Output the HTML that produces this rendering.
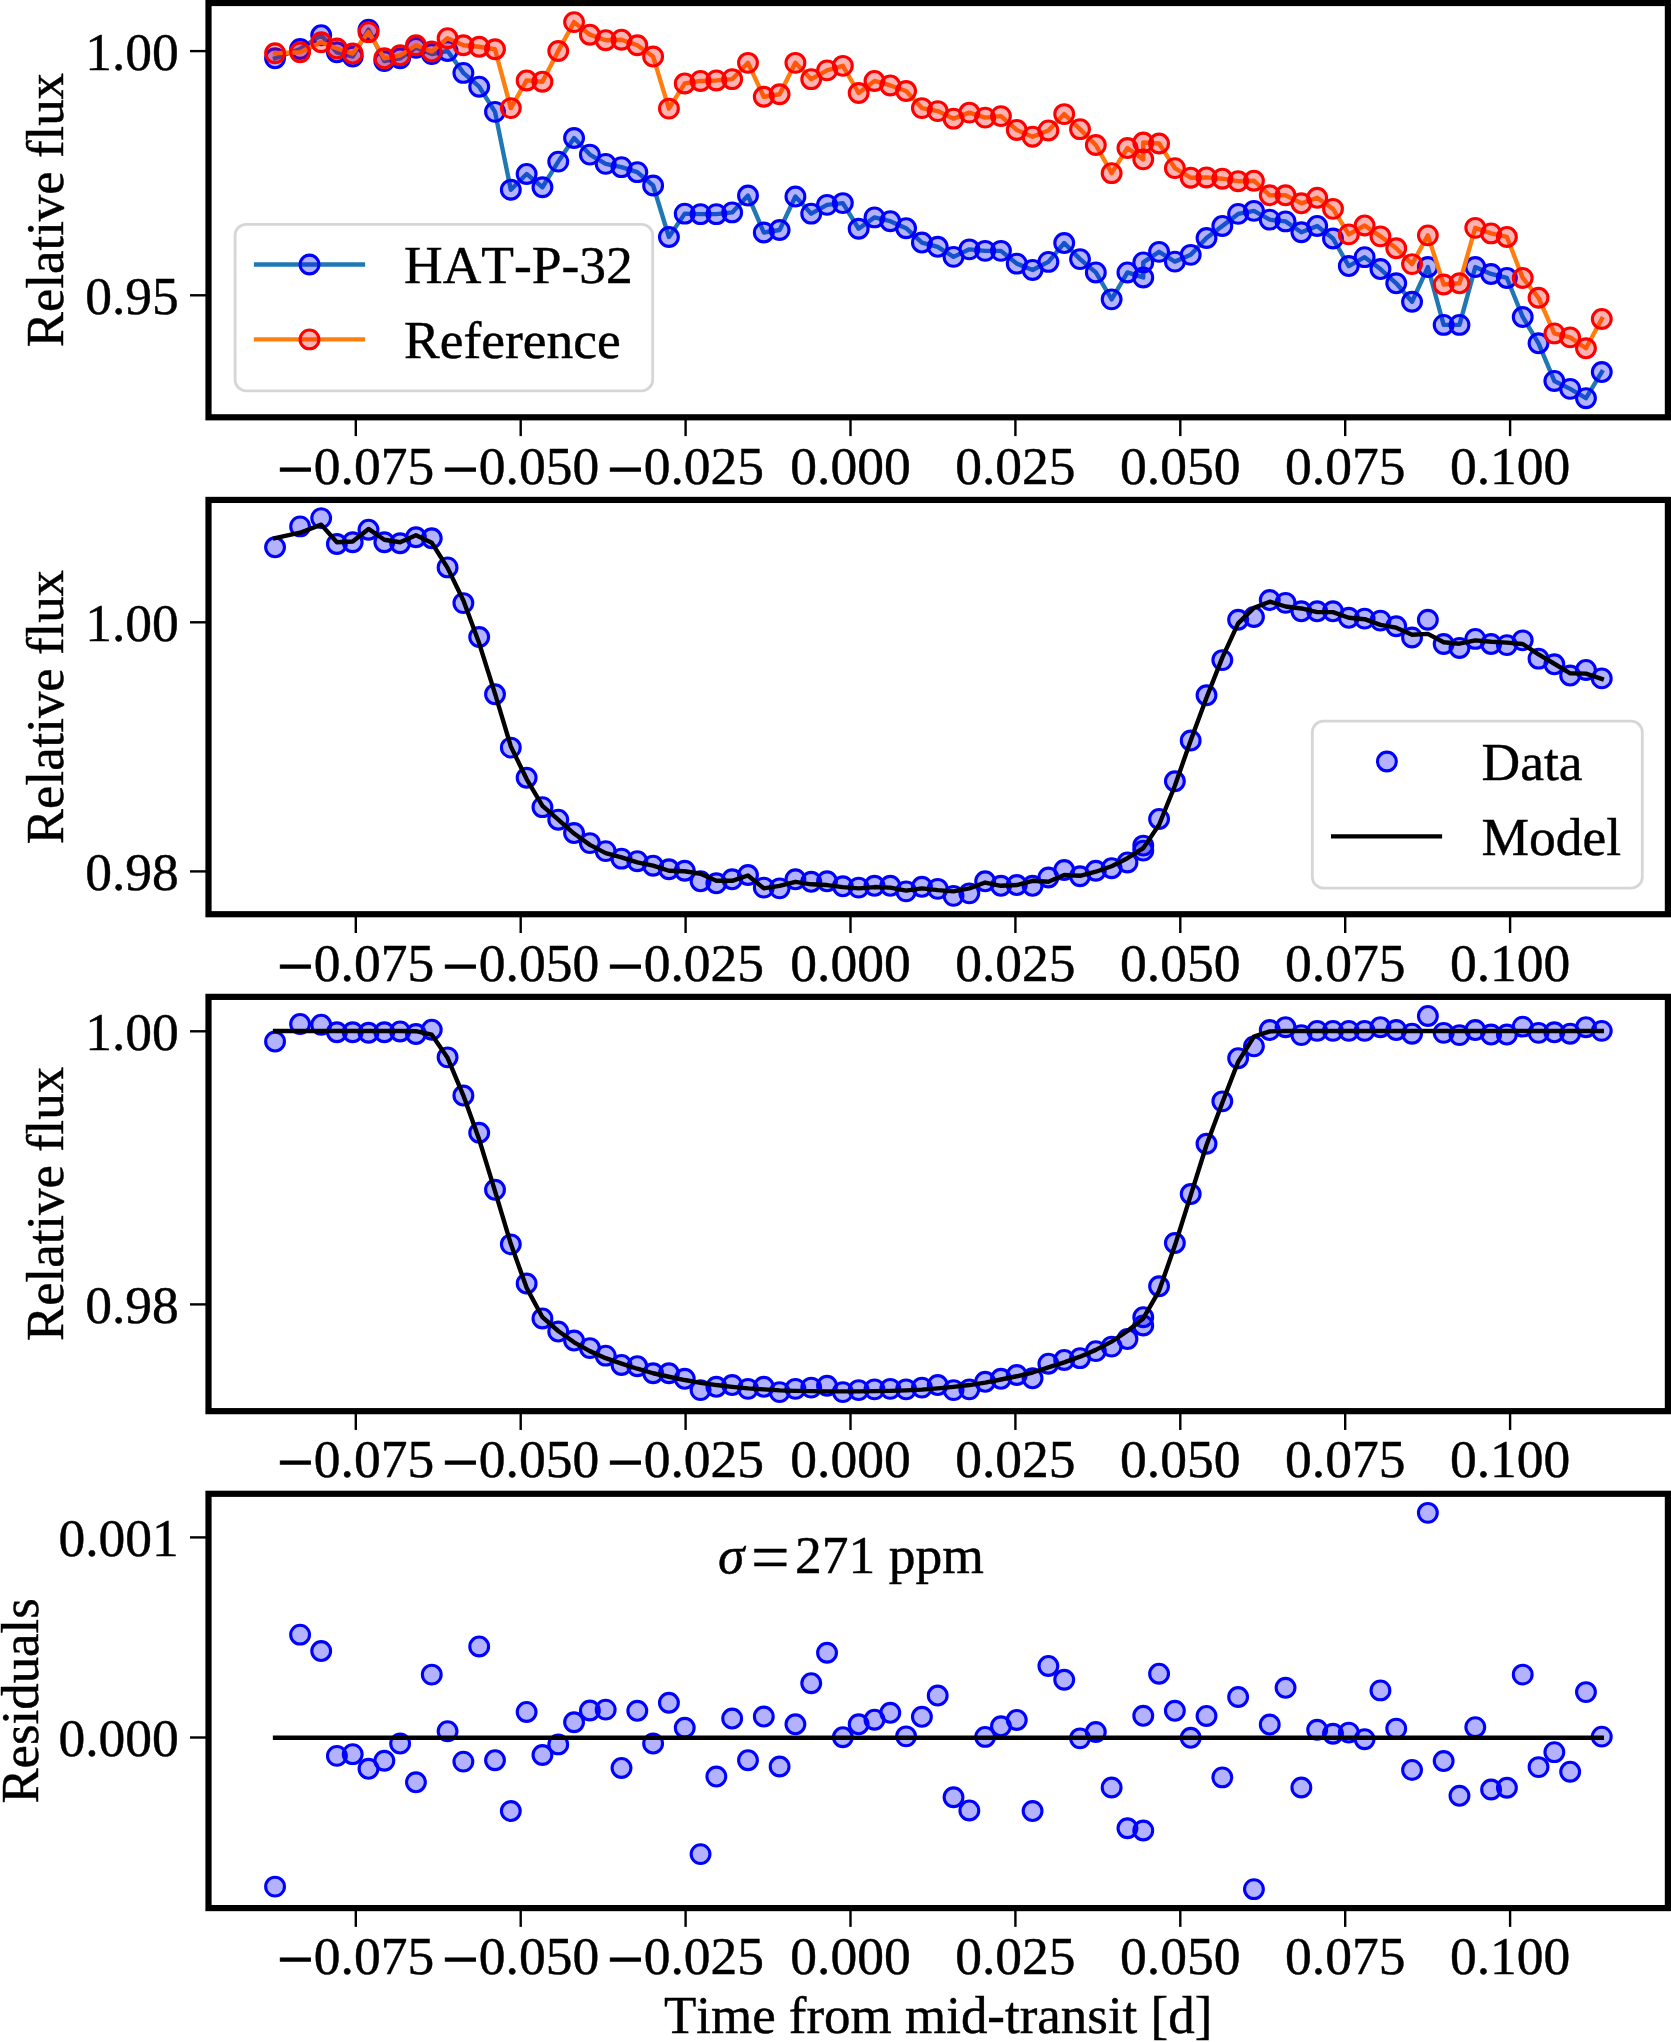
<!DOCTYPE html>
<html lang="en"><head><meta charset="utf-8"><title>HAT-P-32 transit light curve</title>
<style>html,body{margin:0;padding:0;background:#fff;overflow:hidden}svg{display:block}text{font-family:"Liberation Serif","Times New Roman",Times,serif;fill:#000;font-kerning:none;stroke:#000;stroke-width:0.45px}.t{font-size:53.5px}.l{font-size:52.8px}.bm{fill:rgba(0,0,255,0.3);stroke:#0000ff;stroke-width:3.1}.rm{fill:rgba(255,0,0,0.3);stroke:#ff0000;stroke-width:3.1}.ln{fill:none;stroke-width:4.4;stroke-linejoin:round;stroke-linecap:square}.tk{stroke:#000;stroke-width:2.4}.sp{fill:none;stroke:#000;stroke-width:6.2;stroke-linejoin:miter}.lg{fill:rgba(255,255,255,0.8);stroke:rgba(204,204,204,0.8);stroke-width:2.8}</style></head><body>
<svg width="1671" height="2042" viewBox="0 0 1671 2042">
<rect width="1671" height="2042" fill="#fff"/>
<g id="panel1">
<polyline class="ln" stroke="#1f77b4" points="275.05,58.31 300.1,49.01 321.2,35.19 336.9,52.28 352.71,56.55 368.52,29.66 384.33,61.08 400.14,58.31 415.95,47.76 431.77,54.04 447.58,51.02 463.39,72.89 479.2,86.71 495.01,111.85 510.82,189.77 526.63,173.93 542.44,187.25 558.25,161.62 574.06,137.99 589.88,154.58 605.69,163.88 621.5,167.15 637.31,172.17 653.12,185.49 668.93,237.02 684.74,213.64 700.55,214.15 716.36,214.15 732.17,212.39 747.99,195.55 763.8,232.5 779.61,229.98 795.42,196.55 811.23,213.64 827.04,204.85 842.85,203.09 858.66,228.73 874.47,217.41 890.28,221.18 906.1,228.22 921.91,242.55 937.72,246.82 953.53,256.88 969.34,249.34 985.15,250.84 1000.96,250.84 1016.77,263.64 1032.58,269.93 1048.39,261.89 1064.21,243.03 1080.02,259.12 1095.83,272.44 1111.64,299.34 1127.45,272.44 1143.26,277.47 1143.26,262.39 1159.07,251.83 1174.88,261.63 1190.69,254.85 1206.51,238.01 1222.32,225.94 1238.13,213.88 1253.94,210.86 1269.75,219.66 1285.56,221.42 1301.37,232.23 1317.18,225.94 1332.99,238.51 1348.8,266.07 1364.61,257.16 1380.43,269.04 1396.24,283.3 1412.05,301.73 1427.86,267.06 1443.67,324.9 1459.48,324.9 1475.29,267.06 1491.1,273.99 1506.91,277.96 1522.72,316.98 1538.54,343.32 1554.35,380.96 1570.16,388.88 1585.97,398.19 1601.78,372.05"/>
<g class="bm">
<circle cx="275.05" cy="58.31" r="9.4"/><circle cx="300.1" cy="49.01" r="9.4"/><circle cx="321.2" cy="35.19" r="9.4"/><circle cx="336.9" cy="52.28" r="9.4"/><circle cx="352.71" cy="56.55" r="9.4"/><circle cx="368.52" cy="29.66" r="9.4"/><circle cx="384.33" cy="61.08" r="9.4"/><circle cx="400.14" cy="58.31" r="9.4"/><circle cx="415.95" cy="47.76" r="9.4"/><circle cx="431.77" cy="54.04" r="9.4"/><circle cx="447.58" cy="51.02" r="9.4"/><circle cx="463.39" cy="72.89" r="9.4"/><circle cx="479.2" cy="86.71" r="9.4"/><circle cx="495.01" cy="111.85" r="9.4"/><circle cx="510.82" cy="189.77" r="9.4"/><circle cx="526.63" cy="173.93" r="9.4"/><circle cx="542.44" cy="187.25" r="9.4"/><circle cx="558.25" cy="161.62" r="9.4"/><circle cx="574.06" cy="137.99" r="9.4"/><circle cx="589.88" cy="154.58" r="9.4"/><circle cx="605.69" cy="163.88" r="9.4"/><circle cx="621.5" cy="167.15" r="9.4"/><circle cx="637.31" cy="172.17" r="9.4"/><circle cx="653.12" cy="185.49" r="9.4"/><circle cx="668.93" cy="237.02" r="9.4"/><circle cx="684.74" cy="213.64" r="9.4"/><circle cx="700.55" cy="214.15" r="9.4"/><circle cx="716.36" cy="214.15" r="9.4"/><circle cx="732.17" cy="212.39" r="9.4"/><circle cx="747.99" cy="195.55" r="9.4"/><circle cx="763.8" cy="232.5" r="9.4"/><circle cx="779.61" cy="229.98" r="9.4"/><circle cx="795.42" cy="196.55" r="9.4"/><circle cx="811.23" cy="213.64" r="9.4"/><circle cx="827.04" cy="204.85" r="9.4"/><circle cx="842.85" cy="203.09" r="9.4"/><circle cx="858.66" cy="228.73" r="9.4"/><circle cx="874.47" cy="217.41" r="9.4"/><circle cx="890.28" cy="221.18" r="9.4"/><circle cx="906.1" cy="228.22" r="9.4"/><circle cx="921.91" cy="242.55" r="9.4"/><circle cx="937.72" cy="246.82" r="9.4"/><circle cx="953.53" cy="256.88" r="9.4"/><circle cx="969.34" cy="249.34" r="9.4"/><circle cx="985.15" cy="250.84" r="9.4"/><circle cx="1000.96" cy="250.84" r="9.4"/><circle cx="1016.77" cy="263.64" r="9.4"/><circle cx="1032.58" cy="269.93" r="9.4"/><circle cx="1048.39" cy="261.89" r="9.4"/><circle cx="1064.21" cy="243.03" r="9.4"/><circle cx="1080.02" cy="259.12" r="9.4"/><circle cx="1095.83" cy="272.44" r="9.4"/><circle cx="1111.64" cy="299.34" r="9.4"/><circle cx="1127.45" cy="272.44" r="9.4"/><circle cx="1143.26" cy="277.47" r="9.4"/><circle cx="1143.26" cy="262.39" r="9.4"/><circle cx="1159.07" cy="251.83" r="9.4"/><circle cx="1174.88" cy="261.63" r="9.4"/><circle cx="1190.69" cy="254.85" r="9.4"/><circle cx="1206.51" cy="238.01" r="9.4"/><circle cx="1222.32" cy="225.94" r="9.4"/><circle cx="1238.13" cy="213.88" r="9.4"/><circle cx="1253.94" cy="210.86" r="9.4"/><circle cx="1269.75" cy="219.66" r="9.4"/><circle cx="1285.56" cy="221.42" r="9.4"/><circle cx="1301.37" cy="232.23" r="9.4"/><circle cx="1317.18" cy="225.94" r="9.4"/><circle cx="1332.99" cy="238.51" r="9.4"/><circle cx="1348.8" cy="266.07" r="9.4"/><circle cx="1364.61" cy="257.16" r="9.4"/><circle cx="1380.43" cy="269.04" r="9.4"/><circle cx="1396.24" cy="283.3" r="9.4"/><circle cx="1412.05" cy="301.73" r="9.4"/><circle cx="1427.86" cy="267.06" r="9.4"/><circle cx="1443.67" cy="324.9" r="9.4"/><circle cx="1459.48" cy="324.9" r="9.4"/><circle cx="1475.29" cy="267.06" r="9.4"/><circle cx="1491.1" cy="273.99" r="9.4"/><circle cx="1506.91" cy="277.96" r="9.4"/><circle cx="1522.72" cy="316.98" r="9.4"/><circle cx="1538.54" cy="343.32" r="9.4"/><circle cx="1554.35" cy="380.96" r="9.4"/><circle cx="1570.16" cy="388.88" r="9.4"/><circle cx="1585.97" cy="398.19" r="9.4"/><circle cx="1601.78" cy="372.05" r="9.4"/>
</g>
<polyline class="ln" stroke="#ff7f0e" points="275.05,53.29 300.1,52.28 321.2,42.23 336.9,48.51 352.71,53.54 368.52,32.17 384.33,58.31 400.14,55.3 415.95,45.24 431.77,51.53 447.58,38.2 463.39,45.24 479.2,46.75 495.01,49.26 510.82,108.08 526.63,80.43 542.44,81.69 558.25,51.02 574.06,22.12 589.88,34.69 605.69,40.22 621.5,39.71 637.31,45.24 653.12,56.55 668.93,108.58 684.74,83.45 700.55,80.93 716.36,80.43 732.17,79.17 747.99,62.84 763.8,96.77 779.61,94.25 795.42,62.84 811.23,79.17 827.04,70.38 842.85,65.85 858.66,93 874.47,80.93 890.28,85.46 906.1,90.99 921.91,108.08 937.72,111.1 953.53,118.64 969.34,112.6 985.15,117.63 1000.96,116.12 1016.77,129.93 1032.58,136.71 1048.39,130.43 1064.21,114.09 1080.02,129.17 1095.83,145.01 1111.64,173.16 1127.45,148.03 1143.26,159.34 1143.26,142.5 1159.07,143.5 1174.88,168.13 1190.69,177.68 1206.51,177.43 1222.32,178.69 1238.13,181.2 1253.94,180.7 1269.75,195.28 1285.56,195.28 1301.37,203.32 1317.18,197.79 1332.99,208.85 1348.8,234.38 1364.61,225.46 1380.43,236.36 1396.24,248.24 1412.05,264.09 1427.86,235.37 1443.67,284.49 1459.48,283.3 1475.29,227.84 1491.1,233.39 1506.91,236.95 1522.72,277.96 1538.54,297.76 1554.35,333.42 1570.16,337.38 1585.97,348.28 1601.78,318.96"/>
<g class="rm">
<circle cx="275.05" cy="53.29" r="9.4"/><circle cx="300.1" cy="52.28" r="9.4"/><circle cx="321.2" cy="42.23" r="9.4"/><circle cx="336.9" cy="48.51" r="9.4"/><circle cx="352.71" cy="53.54" r="9.4"/><circle cx="368.52" cy="32.17" r="9.4"/><circle cx="384.33" cy="58.31" r="9.4"/><circle cx="400.14" cy="55.3" r="9.4"/><circle cx="415.95" cy="45.24" r="9.4"/><circle cx="431.77" cy="51.53" r="9.4"/><circle cx="447.58" cy="38.2" r="9.4"/><circle cx="463.39" cy="45.24" r="9.4"/><circle cx="479.2" cy="46.75" r="9.4"/><circle cx="495.01" cy="49.26" r="9.4"/><circle cx="510.82" cy="108.08" r="9.4"/><circle cx="526.63" cy="80.43" r="9.4"/><circle cx="542.44" cy="81.69" r="9.4"/><circle cx="558.25" cy="51.02" r="9.4"/><circle cx="574.06" cy="22.12" r="9.4"/><circle cx="589.88" cy="34.69" r="9.4"/><circle cx="605.69" cy="40.22" r="9.4"/><circle cx="621.5" cy="39.71" r="9.4"/><circle cx="637.31" cy="45.24" r="9.4"/><circle cx="653.12" cy="56.55" r="9.4"/><circle cx="668.93" cy="108.58" r="9.4"/><circle cx="684.74" cy="83.45" r="9.4"/><circle cx="700.55" cy="80.93" r="9.4"/><circle cx="716.36" cy="80.43" r="9.4"/><circle cx="732.17" cy="79.17" r="9.4"/><circle cx="747.99" cy="62.84" r="9.4"/><circle cx="763.8" cy="96.77" r="9.4"/><circle cx="779.61" cy="94.25" r="9.4"/><circle cx="795.42" cy="62.84" r="9.4"/><circle cx="811.23" cy="79.17" r="9.4"/><circle cx="827.04" cy="70.38" r="9.4"/><circle cx="842.85" cy="65.85" r="9.4"/><circle cx="858.66" cy="93" r="9.4"/><circle cx="874.47" cy="80.93" r="9.4"/><circle cx="890.28" cy="85.46" r="9.4"/><circle cx="906.1" cy="90.99" r="9.4"/><circle cx="921.91" cy="108.08" r="9.4"/><circle cx="937.72" cy="111.1" r="9.4"/><circle cx="953.53" cy="118.64" r="9.4"/><circle cx="969.34" cy="112.6" r="9.4"/><circle cx="985.15" cy="117.63" r="9.4"/><circle cx="1000.96" cy="116.12" r="9.4"/><circle cx="1016.77" cy="129.93" r="9.4"/><circle cx="1032.58" cy="136.71" r="9.4"/><circle cx="1048.39" cy="130.43" r="9.4"/><circle cx="1064.21" cy="114.09" r="9.4"/><circle cx="1080.02" cy="129.17" r="9.4"/><circle cx="1095.83" cy="145.01" r="9.4"/><circle cx="1111.64" cy="173.16" r="9.4"/><circle cx="1127.45" cy="148.03" r="9.4"/><circle cx="1143.26" cy="159.34" r="9.4"/><circle cx="1143.26" cy="142.5" r="9.4"/><circle cx="1159.07" cy="143.5" r="9.4"/><circle cx="1174.88" cy="168.13" r="9.4"/><circle cx="1190.69" cy="177.68" r="9.4"/><circle cx="1206.51" cy="177.43" r="9.4"/><circle cx="1222.32" cy="178.69" r="9.4"/><circle cx="1238.13" cy="181.2" r="9.4"/><circle cx="1253.94" cy="180.7" r="9.4"/><circle cx="1269.75" cy="195.28" r="9.4"/><circle cx="1285.56" cy="195.28" r="9.4"/><circle cx="1301.37" cy="203.32" r="9.4"/><circle cx="1317.18" cy="197.79" r="9.4"/><circle cx="1332.99" cy="208.85" r="9.4"/><circle cx="1348.8" cy="234.38" r="9.4"/><circle cx="1364.61" cy="225.46" r="9.4"/><circle cx="1380.43" cy="236.36" r="9.4"/><circle cx="1396.24" cy="248.24" r="9.4"/><circle cx="1412.05" cy="264.09" r="9.4"/><circle cx="1427.86" cy="235.37" r="9.4"/><circle cx="1443.67" cy="284.49" r="9.4"/><circle cx="1459.48" cy="283.3" r="9.4"/><circle cx="1475.29" cy="227.84" r="9.4"/><circle cx="1491.1" cy="233.39" r="9.4"/><circle cx="1506.91" cy="236.95" r="9.4"/><circle cx="1522.72" cy="277.96" r="9.4"/><circle cx="1538.54" cy="297.76" r="9.4"/><circle cx="1554.35" cy="333.42" r="9.4"/><circle cx="1570.16" cy="337.38" r="9.4"/><circle cx="1585.97" cy="348.28" r="9.4"/><circle cx="1601.78" cy="318.96" r="9.4"/>
</g>
<rect class="lg" x="235.1" y="224.3" width="417.6" height="166.5" rx="11.1"/>
<line x1="253.9" x2="365.1" y1="264.5" y2="264.5" stroke="#1f77b4" stroke-width="4.4"/>
<circle class="bm" cx="309.5" cy="264.5" r="9.4"/>
<line x1="253.9" x2="365.1" y1="339.4" y2="339.4" stroke="#ff7f0e" stroke-width="4.4"/>
<circle class="rm" cx="309.5" cy="339.4" r="9.4"/>
<text class="t" x="404" y="283.3">HAT-P-32</text>
<text class="t" x="404" y="358.1">Reference</text>
<line class="tk" x1="190" x2="208.5" y1="51.1" y2="51.1"/>
<text class="t" text-anchor="end" x="178.8" y="69.7">1.00</text>
<line class="tk" x1="190" x2="208.5" y1="295.3" y2="295.3"/>
<text class="t" text-anchor="end" x="178.8" y="313.9">0.95</text>
<line class="tk" x1="355.8" x2="355.8" y1="417.3" y2="436.1"/>
<text class="t" text-anchor="middle" x="355.8" y="483.6"><tspan font-size="64.7" dy="7" stroke-width="1">−</tspan><tspan dy="-7">0.075</tspan></text>
<line class="tk" x1="520.7" x2="520.7" y1="417.3" y2="436.1"/>
<text class="t" text-anchor="middle" x="520.7" y="483.6"><tspan font-size="64.7" dy="7" stroke-width="1">−</tspan><tspan dy="-7">0.050</tspan></text>
<line class="tk" x1="685.6" x2="685.6" y1="417.3" y2="436.1"/>
<text class="t" text-anchor="middle" x="685.6" y="483.6"><tspan font-size="64.7" dy="7" stroke-width="1">−</tspan><tspan dy="-7">0.025</tspan></text>
<line class="tk" x1="850.5" x2="850.5" y1="417.3" y2="436.1"/>
<text class="t" text-anchor="middle" x="850.5" y="483.6">0.000</text>
<line class="tk" x1="1015.4" x2="1015.4" y1="417.3" y2="436.1"/>
<text class="t" text-anchor="middle" x="1015.4" y="483.6">0.025</text>
<line class="tk" x1="1180.3" x2="1180.3" y1="417.3" y2="436.1"/>
<text class="t" text-anchor="middle" x="1180.3" y="483.6">0.050</text>
<line class="tk" x1="1345.2" x2="1345.2" y1="417.3" y2="436.1"/>
<text class="t" text-anchor="middle" x="1345.2" y="483.6">0.075</text>
<line class="tk" x1="1510.1" x2="1510.1" y1="417.3" y2="436.1"/>
<text class="t" text-anchor="middle" x="1510.1" y="483.6">0.100</text>
<rect class="sp" x="208.5" y="3" width="1459.4" height="414.3"/>
<text class="l" text-anchor="middle" transform="translate(63,210.15) rotate(-90)">Relative flux</text>
</g>
<g id="panel2">
<g class="bm">
<circle cx="275.05" cy="547.28" r="9.4"/><circle cx="300.1" cy="526.42" r="9.4"/><circle cx="321.2" cy="518.12" r="9.4"/><circle cx="336.9" cy="544.01" r="9.4"/><circle cx="352.71" cy="542.25" r="9.4"/><circle cx="368.52" cy="529.69" r="9.4"/><circle cx="384.33" cy="542.25" r="9.4"/><circle cx="400.14" cy="543.26" r="9.4"/><circle cx="415.95" cy="537.23" r="9.4"/><circle cx="431.77" cy="538.23" r="9.4"/><circle cx="447.58" cy="567.39" r="9.4"/><circle cx="463.39" cy="603.08" r="9.4"/><circle cx="479.2" cy="637.01" r="9.4"/><circle cx="495.01" cy="694.32" r="9.4"/><circle cx="510.82" cy="747.6" r="9.4"/><circle cx="526.63" cy="777.76" r="9.4"/><circle cx="542.44" cy="807.15" r="9.4"/><circle cx="558.25" cy="819.71" r="9.4"/><circle cx="574.06" cy="833.03" r="9.4"/><circle cx="589.88" cy="843.09" r="9.4"/><circle cx="605.69" cy="851.13" r="9.4"/><circle cx="621.5" cy="858.67" r="9.4"/><circle cx="637.31" cy="861.18" r="9.4"/><circle cx="653.12" cy="865.71" r="9.4"/><circle cx="668.93" cy="869.23" r="9.4"/><circle cx="684.74" cy="870.74" r="9.4"/><circle cx="700.55" cy="881.29" r="9.4"/><circle cx="716.36" cy="883.3" r="9.4"/><circle cx="732.17" cy="879.28" r="9.4"/><circle cx="747.99" cy="875.01" r="9.4"/><circle cx="763.8" cy="887.58" r="9.4"/><circle cx="779.61" cy="888.33" r="9.4"/><circle cx="795.42" cy="879.28" r="9.4"/><circle cx="811.23" cy="881.8" r="9.4"/><circle cx="827.04" cy="881.29" r="9.4"/><circle cx="842.85" cy="886.32" r="9.4"/><circle cx="858.66" cy="887.58" r="9.4"/><circle cx="874.47" cy="885.82" r="9.4"/><circle cx="890.28" cy="885.82" r="9.4"/><circle cx="906.1" cy="891.35" r="9.4"/><circle cx="921.91" cy="886.82" r="9.4"/><circle cx="937.72" cy="888.83" r="9.4"/><circle cx="953.53" cy="895.87" r="9.4"/><circle cx="969.34" cy="893.36" r="9.4"/><circle cx="985.15" cy="881.29" r="9.4"/><circle cx="1000.96" cy="885.82" r="9.4"/><circle cx="1016.77" cy="885.06" r="9.4"/><circle cx="1032.58" cy="885.82" r="9.4"/><circle cx="1048.39" cy="877.52" r="9.4"/><circle cx="1064.21" cy="869.98" r="9.4"/><circle cx="1080.02" cy="876.27" r="9.4"/><circle cx="1095.83" cy="870.74" r="9.4"/><circle cx="1111.64" cy="868.22" r="9.4"/><circle cx="1127.45" cy="862.44" r="9.4"/><circle cx="1143.26" cy="850.63" r="9.4"/><circle cx="1143.26" cy="845.6" r="9.4"/><circle cx="1159.07" cy="818.96" r="9.4"/><circle cx="1174.88" cy="781.26" r="9.4"/><circle cx="1190.69" cy="740.54" r="9.4"/><circle cx="1206.51" cy="695.3" r="9.4"/><circle cx="1222.32" cy="660.11" r="9.4"/><circle cx="1238.13" cy="619.76" r="9.4"/><circle cx="1253.94" cy="616.94" r="9.4"/><circle cx="1269.75" cy="600.03" r="9.4"/><circle cx="1285.56" cy="602.84" r="9.4"/><circle cx="1301.37" cy="611.3" r="9.4"/><circle cx="1317.18" cy="611.3" r="9.4"/><circle cx="1332.99" cy="611.3" r="9.4"/><circle cx="1348.8" cy="617.78" r="9.4"/><circle cx="1364.61" cy="618.63" r="9.4"/><circle cx="1380.43" cy="620.6" r="9.4"/><circle cx="1396.24" cy="626.24" r="9.4"/><circle cx="1412.05" cy="637.51" r="9.4"/><circle cx="1427.86" cy="619.76" r="9.4"/><circle cx="1443.67" cy="644" r="9.4"/><circle cx="1459.48" cy="647.94" r="9.4"/><circle cx="1475.29" cy="638.92" r="9.4"/><circle cx="1491.1" cy="644" r="9.4"/><circle cx="1506.91" cy="645.12" r="9.4"/><circle cx="1522.72" cy="640.33" r="9.4"/><circle cx="1538.54" cy="658.65" r="9.4"/><circle cx="1554.35" cy="664.29" r="9.4"/><circle cx="1570.16" cy="675.57" r="9.4"/><circle cx="1585.97" cy="669.93" r="9.4"/><circle cx="1601.78" cy="678.38" r="9.4"/>
</g>
<polyline class="ln" stroke="#000" points="275.05,538.23 300.1,532.7 321.2,524.66 336.9,542.25 352.71,541.5 368.52,528.93 384.33,539.74 400.14,542.25 415.95,535.22 431.77,542.76 447.58,567.89 463.39,600.57 479.2,643.29 495.01,693.56 510.82,746.35 526.63,779.02 542.44,805.89 558.25,819.71 574.06,833.54 589.88,844.85 605.69,853.14 621.5,857.41 637.31,862.44 653.12,865.71 668.93,870.74 684.74,871.24 700.55,873.75 716.36,880.79 732.17,880.79 747.99,875.51 763.8,888.33 779.61,885.82 795.42,881.8 811.23,884.31 827.04,885.06 842.85,887.07 858.66,888.33 874.47,887.07 890.28,887.58 906.1,890.59 921.91,888.33 937.72,890.09 953.53,891.35 969.34,888.33 985.15,882.55 1000.96,885.82 1016.77,885.06 1032.58,880.79 1048.39,881.8 1064.21,875.01 1080.02,875.76 1095.83,871.74 1111.64,866.21 1127.45,858.17 1143.26,848.11 1143.26,848.11 1159.07,824.74 1174.88,785.78 1190.69,740.54 1206.51,697.81 1222.32,657.59 1238.13,623.42 1253.94,607.92 1269.75,601.72 1285.56,606.51 1301.37,608.48 1317.18,612.15 1332.99,612.15 1348.8,617.78 1364.61,619.19 1380.43,624.83 1396.24,627.65 1412.05,634.69 1427.86,633.85 1443.67,642.31 1459.48,643.71 1475.29,640.33 1491.1,641.74 1506.91,642.59 1522.72,644 1538.54,654.43 1554.35,663.73 1570.16,673.31 1585.97,673.59 1601.78,678.95"/>
<rect class="lg" x="1312.3" y="721.2" width="330" height="166.9" rx="11.1"/>
<circle class="bm" cx="1386.9" cy="761.5" r="9.4"/>
<line x1="1331" x2="1442.1" y1="836.4" y2="836.4" stroke="#000" stroke-width="4.4"/>
<text class="t" x="1481.5" y="780.3">Data</text>
<text class="t" x="1481.5" y="855">Model</text>
<line class="tk" x1="190" x2="208.5" y1="622.3" y2="622.3"/>
<text class="t" text-anchor="end" x="178.8" y="640.9">1.00</text>
<line class="tk" x1="190" x2="208.5" y1="871.4" y2="871.4"/>
<text class="t" text-anchor="end" x="178.8" y="890">0.98</text>
<line class="tk" x1="355.8" x2="355.8" y1="914.23" y2="933.03"/>
<text class="t" text-anchor="middle" x="355.8" y="980.53"><tspan font-size="64.7" dy="7" stroke-width="1">−</tspan><tspan dy="-7">0.075</tspan></text>
<line class="tk" x1="520.7" x2="520.7" y1="914.23" y2="933.03"/>
<text class="t" text-anchor="middle" x="520.7" y="980.53"><tspan font-size="64.7" dy="7" stroke-width="1">−</tspan><tspan dy="-7">0.050</tspan></text>
<line class="tk" x1="685.6" x2="685.6" y1="914.23" y2="933.03"/>
<text class="t" text-anchor="middle" x="685.6" y="980.53"><tspan font-size="64.7" dy="7" stroke-width="1">−</tspan><tspan dy="-7">0.025</tspan></text>
<line class="tk" x1="850.5" x2="850.5" y1="914.23" y2="933.03"/>
<text class="t" text-anchor="middle" x="850.5" y="980.53">0.000</text>
<line class="tk" x1="1015.4" x2="1015.4" y1="914.23" y2="933.03"/>
<text class="t" text-anchor="middle" x="1015.4" y="980.53">0.025</text>
<line class="tk" x1="1180.3" x2="1180.3" y1="914.23" y2="933.03"/>
<text class="t" text-anchor="middle" x="1180.3" y="980.53">0.050</text>
<line class="tk" x1="1345.2" x2="1345.2" y1="914.23" y2="933.03"/>
<text class="t" text-anchor="middle" x="1345.2" y="980.53">0.075</text>
<line class="tk" x1="1510.1" x2="1510.1" y1="914.23" y2="933.03"/>
<text class="t" text-anchor="middle" x="1510.1" y="980.53">0.100</text>
<rect class="sp" x="208.5" y="499.93" width="1459.4" height="414.3"/>
<text class="l" text-anchor="middle" transform="translate(63,707.08) rotate(-90)">Relative flux</text>
</g>
<g id="panel3">
<g class="bm">
<circle cx="275.05" cy="1041.53" r="9.4"/><circle cx="300.1" cy="1023.93" r="9.4"/><circle cx="321.2" cy="1024.69" r="9.4"/><circle cx="336.9" cy="1032.23" r="9.4"/><circle cx="352.71" cy="1032.23" r="9.4"/><circle cx="368.52" cy="1032.73" r="9.4"/><circle cx="384.33" cy="1032.23" r="9.4"/><circle cx="400.14" cy="1031.47" r="9.4"/><circle cx="415.95" cy="1033.99" r="9.4"/><circle cx="431.77" cy="1029.71" r="9.4"/><circle cx="447.58" cy="1057.36" r="9.4"/><circle cx="463.39" cy="1095.57" r="9.4"/><circle cx="479.2" cy="1132.76" r="9.4"/><circle cx="495.01" cy="1189.82" r="9.4"/><circle cx="510.82" cy="1244.36" r="9.4"/><circle cx="526.63" cy="1283.57" r="9.4"/><circle cx="542.44" cy="1318.46" r="9.4"/><circle cx="558.25" cy="1331.53" r="9.4"/><circle cx="574.06" cy="1340.57" r="9.4"/><circle cx="589.88" cy="1348.11" r="9.4"/><circle cx="605.69" cy="1355.66" r="9.4"/><circle cx="621.5" cy="1364.96" r="9.4"/><circle cx="637.31" cy="1366.21" r="9.4"/><circle cx="653.12" cy="1373.25" r="9.4"/><circle cx="668.93" cy="1373.25" r="9.4"/><circle cx="684.74" cy="1378.78" r="9.4"/><circle cx="700.55" cy="1390.09" r="9.4"/><circle cx="716.36" cy="1386.82" r="9.4"/><circle cx="732.17" cy="1385.06" r="9.4"/><circle cx="747.99" cy="1388.83" r="9.4"/><circle cx="763.8" cy="1386.82" r="9.4"/><circle cx="779.61" cy="1392.1" r="9.4"/><circle cx="795.42" cy="1388.83" r="9.4"/><circle cx="811.23" cy="1387.58" r="9.4"/><circle cx="827.04" cy="1385.82" r="9.4"/><circle cx="842.85" cy="1392.1" r="9.4"/><circle cx="858.66" cy="1390.09" r="9.4"/><circle cx="874.47" cy="1389.34" r="9.4"/><circle cx="890.28" cy="1388.83" r="9.4"/><circle cx="906.1" cy="1389.34" r="9.4"/><circle cx="921.91" cy="1387.58" r="9.4"/><circle cx="937.72" cy="1385.06" r="9.4"/><circle cx="953.53" cy="1390.09" r="9.4"/><circle cx="969.34" cy="1389.34" r="9.4"/><circle cx="985.15" cy="1381.8" r="9.4"/><circle cx="1000.96" cy="1378.78" r="9.4"/><circle cx="1016.77" cy="1375.01" r="9.4"/><circle cx="1032.58" cy="1378.28" r="9.4"/><circle cx="1048.39" cy="1363.7" r="9.4"/><circle cx="1064.21" cy="1359.93" r="9.4"/><circle cx="1080.02" cy="1358.17" r="9.4"/><circle cx="1095.83" cy="1351.13" r="9.4"/><circle cx="1111.64" cy="1346.61" r="9.4"/><circle cx="1127.45" cy="1339.07" r="9.4"/><circle cx="1143.26" cy="1325.49" r="9.4"/><circle cx="1143.26" cy="1317.2" r="9.4"/><circle cx="1159.07" cy="1286.28" r="9.4"/><circle cx="1174.88" cy="1243.05" r="9.4"/><circle cx="1190.69" cy="1194.04" r="9.4"/><circle cx="1206.51" cy="1143.77" r="9.4"/><circle cx="1222.32" cy="1101.34" r="9.4"/><circle cx="1238.13" cy="1058.21" r="9.4"/><circle cx="1253.94" cy="1046.37" r="9.4"/><circle cx="1269.75" cy="1030.03" r="9.4"/><circle cx="1285.56" cy="1027.21" r="9.4"/><circle cx="1301.37" cy="1035.1" r="9.4"/><circle cx="1317.18" cy="1030.87" r="9.4"/><circle cx="1332.99" cy="1030.87" r="9.4"/><circle cx="1348.8" cy="1030.87" r="9.4"/><circle cx="1364.61" cy="1030.87" r="9.4"/><circle cx="1380.43" cy="1027.21" r="9.4"/><circle cx="1396.24" cy="1030.03" r="9.4"/><circle cx="1412.05" cy="1033.69" r="9.4"/><circle cx="1427.86" cy="1015.93" r="9.4"/><circle cx="1443.67" cy="1032.84" r="9.4"/><circle cx="1459.48" cy="1035.1" r="9.4"/><circle cx="1475.29" cy="1030.03" r="9.4"/><circle cx="1491.1" cy="1034.54" r="9.4"/><circle cx="1506.91" cy="1034.54" r="9.4"/><circle cx="1522.72" cy="1026.64" r="9.4"/><circle cx="1538.54" cy="1032.84" r="9.4"/><circle cx="1554.35" cy="1032.28" r="9.4"/><circle cx="1570.16" cy="1033.69" r="9.4"/><circle cx="1585.97" cy="1027.21" r="9.4"/><circle cx="1601.78" cy="1030.87" r="9.4"/>
</g>
<polyline class="ln" stroke="#000" points="275.05,1031.02 300.1,1031.02 321.2,1031.02 336.9,1031.02 352.71,1031.02 368.52,1031.02 384.33,1031.02 400.14,1031.02 415.95,1031.22 431.77,1034.74 447.58,1057.86 463.39,1095.57 479.2,1139.55 495.01,1191.08 510.82,1243.86 526.63,1287.85 542.44,1317.2 558.25,1331.02 574.06,1342.33 589.88,1351.13 605.69,1358.17 621.5,1363.7 637.31,1368.73 653.12,1373.25 668.93,1376.77 684.74,1380.04 700.55,1382.8 716.36,1385.06 732.17,1386.82 747.99,1388.33 763.8,1389.34 779.61,1390.34 795.42,1390.84 811.23,1391.1 827.04,1391.35 842.85,1391.35 858.66,1391.35 874.47,1391.1 890.28,1390.84 906.1,1390.34 921.91,1389.59 937.72,1388.33 953.53,1386.82 969.34,1385.06 985.15,1382.55 1000.96,1379.53 1016.77,1376.27 1032.58,1372.5 1048.39,1367.47 1064.21,1362.44 1080.02,1356.66 1095.83,1349.87 1111.64,1341.58 1127.45,1331.02 1143.26,1318.46 1143.26,1318.46 1159.07,1290.81 1174.88,1245.57 1190.69,1195.3 1206.51,1145.03 1222.32,1102.75 1238.13,1061.88 1253.94,1036.51 1269.75,1031.43 1285.56,1031.01 1301.37,1031.01 1317.18,1031.01 1332.99,1031.01 1348.8,1031.01 1364.61,1031.01 1380.43,1031.01 1396.24,1031.01 1412.05,1031.01 1427.86,1031.01 1443.67,1031.01 1459.48,1031.01 1475.29,1031.01 1491.1,1031.01 1506.91,1031.01 1522.72,1031.01 1538.54,1031.01 1554.35,1031.01 1570.16,1031.01 1585.97,1031.01 1601.78,1031.01"/>
<line class="tk" x1="190" x2="208.5" y1="1031.3" y2="1031.3"/>
<text class="t" text-anchor="end" x="178.8" y="1049.9">1.00</text>
<line class="tk" x1="190" x2="208.5" y1="1304.4" y2="1304.4"/>
<text class="t" text-anchor="end" x="178.8" y="1323">0.98</text>
<line class="tk" x1="355.8" x2="355.8" y1="1411.16" y2="1429.96"/>
<text class="t" text-anchor="middle" x="355.8" y="1477.46"><tspan font-size="64.7" dy="7" stroke-width="1">−</tspan><tspan dy="-7">0.075</tspan></text>
<line class="tk" x1="520.7" x2="520.7" y1="1411.16" y2="1429.96"/>
<text class="t" text-anchor="middle" x="520.7" y="1477.46"><tspan font-size="64.7" dy="7" stroke-width="1">−</tspan><tspan dy="-7">0.050</tspan></text>
<line class="tk" x1="685.6" x2="685.6" y1="1411.16" y2="1429.96"/>
<text class="t" text-anchor="middle" x="685.6" y="1477.46"><tspan font-size="64.7" dy="7" stroke-width="1">−</tspan><tspan dy="-7">0.025</tspan></text>
<line class="tk" x1="850.5" x2="850.5" y1="1411.16" y2="1429.96"/>
<text class="t" text-anchor="middle" x="850.5" y="1477.46">0.000</text>
<line class="tk" x1="1015.4" x2="1015.4" y1="1411.16" y2="1429.96"/>
<text class="t" text-anchor="middle" x="1015.4" y="1477.46">0.025</text>
<line class="tk" x1="1180.3" x2="1180.3" y1="1411.16" y2="1429.96"/>
<text class="t" text-anchor="middle" x="1180.3" y="1477.46">0.050</text>
<line class="tk" x1="1345.2" x2="1345.2" y1="1411.16" y2="1429.96"/>
<text class="t" text-anchor="middle" x="1345.2" y="1477.46">0.075</text>
<line class="tk" x1="1510.1" x2="1510.1" y1="1411.16" y2="1429.96"/>
<text class="t" text-anchor="middle" x="1510.1" y="1477.46">0.100</text>
<rect class="sp" x="208.5" y="996.86" width="1459.4" height="414.3"/>
<text class="l" text-anchor="middle" transform="translate(63,1204.01) rotate(-90)">Relative flux</text>
</g>
<g id="panel4">
<g class="bm">
<circle cx="275.05" cy="1886.58" r="9.4"/><circle cx="300.1" cy="1634.66" r="9.4"/><circle cx="321.2" cy="1651.03" r="9.4"/><circle cx="336.9" cy="1755.88" r="9.4"/><circle cx="352.71" cy="1754.16" r="9.4"/><circle cx="368.52" cy="1768.81" r="9.4"/><circle cx="384.33" cy="1760.76" r="9.4"/><circle cx="400.14" cy="1743.53" r="9.4"/><circle cx="415.95" cy="1782.31" r="9.4"/><circle cx="431.77" cy="1674.59" r="9.4"/><circle cx="447.58" cy="1731.18" r="9.4"/><circle cx="463.39" cy="1761.62" r="9.4"/><circle cx="479.2" cy="1646.44" r="9.4"/><circle cx="495.01" cy="1760.19" r="9.4"/><circle cx="510.82" cy="1811.03" r="9.4"/><circle cx="526.63" cy="1711.93" r="9.4"/><circle cx="542.44" cy="1755.02" r="9.4"/><circle cx="558.25" cy="1744.39" r="9.4"/><circle cx="574.06" cy="1722.27" r="9.4"/><circle cx="589.88" cy="1710.49" r="9.4"/><circle cx="605.69" cy="1709.63" r="9.4"/><circle cx="621.5" cy="1767.94" r="9.4"/><circle cx="637.31" cy="1710.78" r="9.4"/><circle cx="653.12" cy="1743.53" r="9.4"/><circle cx="668.93" cy="1702.74" r="9.4"/><circle cx="684.74" cy="1727.73" r="9.4"/><circle cx="700.55" cy="1854.12" r="9.4"/><circle cx="716.36" cy="1776.56" r="9.4"/><circle cx="732.17" cy="1718.54" r="9.4"/><circle cx="747.99" cy="1760.19" r="9.4"/><circle cx="763.8" cy="1716.53" r="9.4"/><circle cx="779.61" cy="1766.51" r="9.4"/><circle cx="795.42" cy="1724.28" r="9.4"/><circle cx="811.23" cy="1683.2" r="9.4"/><circle cx="827.04" cy="1652.76" r="9.4"/><circle cx="842.85" cy="1737.21" r="9.4"/><circle cx="858.66" cy="1724.28" r="9.4"/><circle cx="874.47" cy="1719.69" r="9.4"/><circle cx="890.28" cy="1712.79" r="9.4"/><circle cx="906.1" cy="1736.35" r="9.4"/><circle cx="921.91" cy="1716.81" r="9.4"/><circle cx="937.72" cy="1695.56" r="9.4"/><circle cx="953.53" cy="1797.24" r="9.4"/><circle cx="969.34" cy="1810.46" r="9.4"/><circle cx="985.15" cy="1736.92" r="9.4"/><circle cx="1000.96" cy="1726.29" r="9.4"/><circle cx="1016.77" cy="1719.97" r="9.4"/><circle cx="1032.58" cy="1811.03" r="9.4"/><circle cx="1048.39" cy="1665.97" r="9.4"/><circle cx="1064.21" cy="1679.76" r="9.4"/><circle cx="1080.02" cy="1738.36" r="9.4"/><circle cx="1095.83" cy="1732.04" r="9.4"/><circle cx="1111.64" cy="1787.48" r="9.4"/><circle cx="1127.45" cy="1828.27" r="9.4"/><circle cx="1143.26" cy="1830.5" r="9.4"/><circle cx="1143.26" cy="1715.8" r="9.4"/><circle cx="1159.07" cy="1673.7" r="9.4"/><circle cx="1174.88" cy="1710.8" r="9.4"/><circle cx="1190.69" cy="1737.78" r="9.4"/><circle cx="1206.51" cy="1715.95" r="9.4"/><circle cx="1222.32" cy="1777.42" r="9.4"/><circle cx="1238.13" cy="1696.99" r="9.4"/><circle cx="1253.94" cy="1889.17" r="9.4"/><circle cx="1269.75" cy="1724.57" r="9.4"/><circle cx="1285.56" cy="1687.8" r="9.4"/><circle cx="1301.37" cy="1787.48" r="9.4"/><circle cx="1317.18" cy="1729.74" r="9.4"/><circle cx="1332.99" cy="1733.76" r="9.4"/><circle cx="1348.8" cy="1732.61" r="9.4"/><circle cx="1364.61" cy="1739.22" r="9.4"/><circle cx="1380.43" cy="1690.39" r="9.4"/><circle cx="1396.24" cy="1728.59" r="9.4"/><circle cx="1412.05" cy="1769.96" r="9.4"/><circle cx="1427.86" cy="1512.86" r="9.4"/><circle cx="1443.67" cy="1761.05" r="9.4"/><circle cx="1459.48" cy="1795.81" r="9.4"/><circle cx="1475.29" cy="1727.15" r="9.4"/><circle cx="1491.1" cy="1789.49" r="9.4"/><circle cx="1506.91" cy="1787.76" r="9.4"/><circle cx="1522.72" cy="1674.59" r="9.4"/><circle cx="1538.54" cy="1767.08" r="9.4"/><circle cx="1554.35" cy="1752.15" r="9.4"/><circle cx="1570.16" cy="1771.68" r="9.4"/><circle cx="1585.97" cy="1692.11" r="9.4"/><circle cx="1601.78" cy="1736.63" r="9.4"/>
</g>
<polyline class="ln" stroke="#000" points="275.05,1737.75 1601.78,1737.75"/>
<text class="t" x="718" y="1572.6" font-style="italic">σ</text>
<text x="751" y="1579.6" font-size="68.3" stroke-width="1.1">=</text>
<text class="t" x="795" y="1572.6">271 ppm</text>
<line class="tk" x1="190" x2="208.5" y1="1537.4" y2="1537.4"/>
<text class="t" text-anchor="end" x="178.8" y="1556">0.001</text>
<line class="tk" x1="190" x2="208.5" y1="1737.5" y2="1737.5"/>
<text class="t" text-anchor="end" x="178.8" y="1756.1">0.000</text>
<line class="tk" x1="355.8" x2="355.8" y1="1908.09" y2="1926.89"/>
<text class="t" text-anchor="middle" x="355.8" y="1974.39"><tspan font-size="64.7" dy="7" stroke-width="1">−</tspan><tspan dy="-7">0.075</tspan></text>
<line class="tk" x1="520.7" x2="520.7" y1="1908.09" y2="1926.89"/>
<text class="t" text-anchor="middle" x="520.7" y="1974.39"><tspan font-size="64.7" dy="7" stroke-width="1">−</tspan><tspan dy="-7">0.050</tspan></text>
<line class="tk" x1="685.6" x2="685.6" y1="1908.09" y2="1926.89"/>
<text class="t" text-anchor="middle" x="685.6" y="1974.39"><tspan font-size="64.7" dy="7" stroke-width="1">−</tspan><tspan dy="-7">0.025</tspan></text>
<line class="tk" x1="850.5" x2="850.5" y1="1908.09" y2="1926.89"/>
<text class="t" text-anchor="middle" x="850.5" y="1974.39">0.000</text>
<line class="tk" x1="1015.4" x2="1015.4" y1="1908.09" y2="1926.89"/>
<text class="t" text-anchor="middle" x="1015.4" y="1974.39">0.025</text>
<line class="tk" x1="1180.3" x2="1180.3" y1="1908.09" y2="1926.89"/>
<text class="t" text-anchor="middle" x="1180.3" y="1974.39">0.050</text>
<line class="tk" x1="1345.2" x2="1345.2" y1="1908.09" y2="1926.89"/>
<text class="t" text-anchor="middle" x="1345.2" y="1974.39">0.075</text>
<line class="tk" x1="1510.1" x2="1510.1" y1="1908.09" y2="1926.89"/>
<text class="t" text-anchor="middle" x="1510.1" y="1974.39">0.100</text>
<rect class="sp" x="208.5" y="1493.79" width="1459.4" height="414.3"/>
<text class="l" text-anchor="middle" transform="translate(37.5,1700.94) rotate(-90)">Residuals</text>
<text class="l" style="font-size:52.95px" text-anchor="middle" x="938.1" y="2032.9">Time from mid-transit [d]</text>
</g>
</svg></body></html>
